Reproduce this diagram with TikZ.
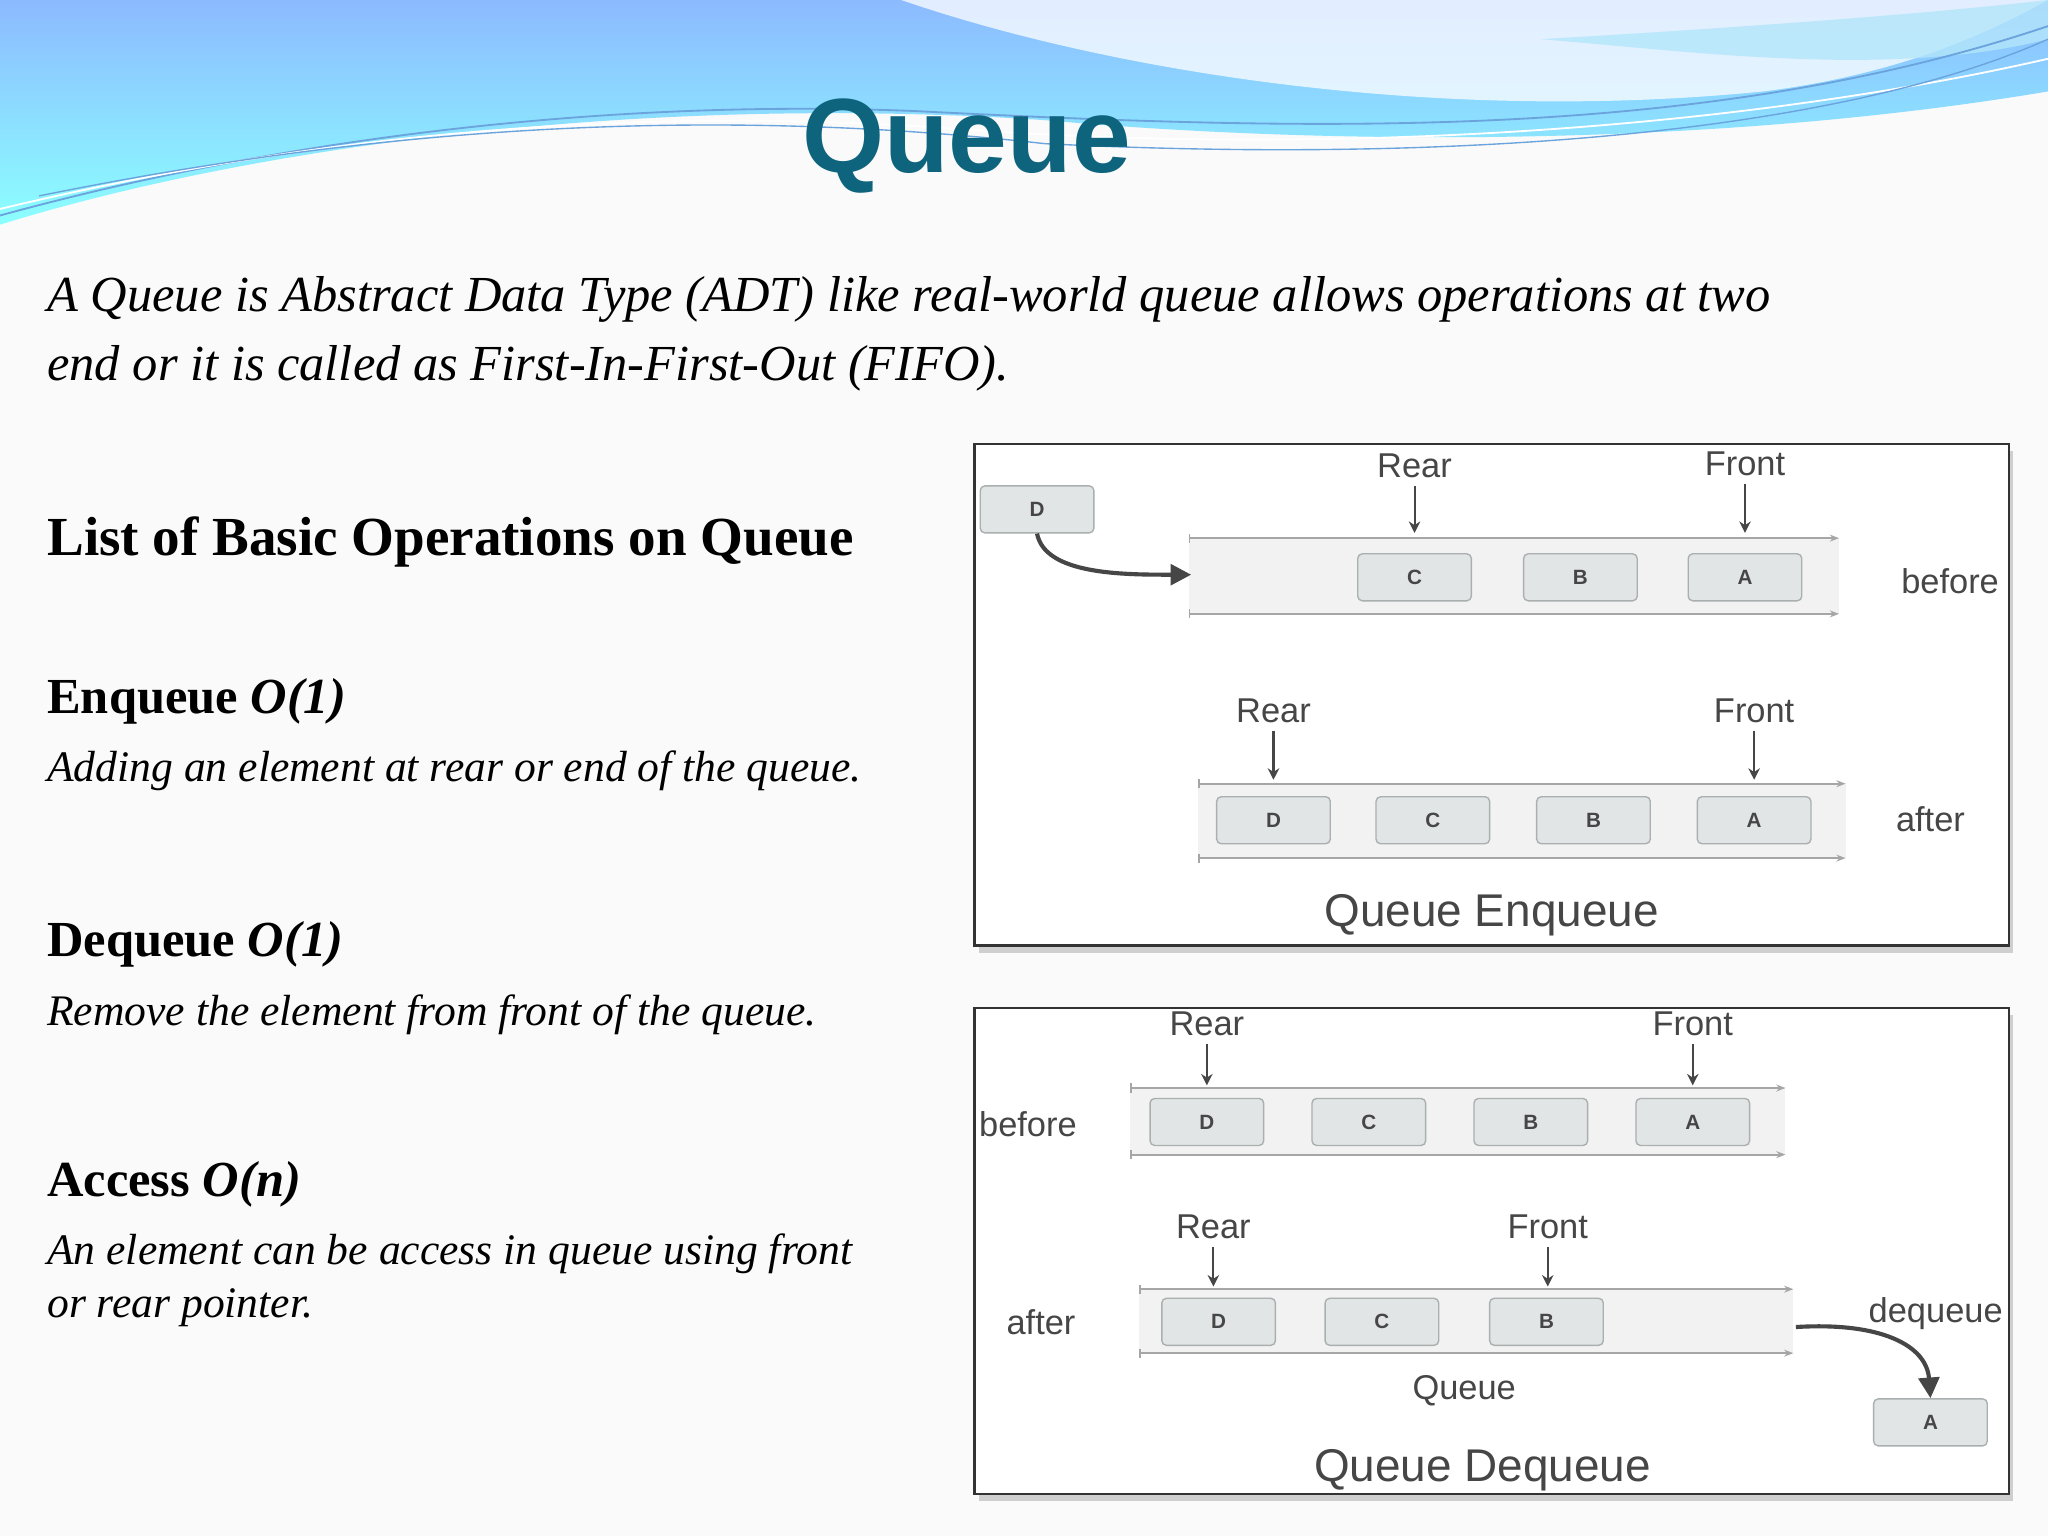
\documentclass[tikz,border=0pt]{standalone}
\usepackage{fontspec}
\setmainfont{Liberation Serif}
\setsansfont{Liberation Sans}
\usetikzlibrary{arrows.meta,shadows}
\definecolor{teal1}{RGB}{14,100,125}
\definecolor{cellf}{RGB}{225,229,229}
\definecolor{cellb}{RGB}{170,175,175}
\definecolor{chan}{RGB}{242,242,242}
\definecolor{dtxt}{RGB}{70,70,70}
\tikzset{
 cell/.style={draw=cellb,fill=cellf,rounded corners=2pt,minimum width=1.74cm,minimum height=0.72cm,font=\sffamily\fontsize{9}{9}\selectfont\bfseries,text=dtxt,line width=0.6pt},
 lab/.style={font=\sffamily\fontsize{15}{15}\selectfont,text=dtxt},
 ptr/.style={-{Stealth[length=5pt,width=5pt]},line width=0.9pt,draw=dtxt},
 rail/.style={draw=gray!70,line width=0.8pt,{Bar[width=4pt]}-{Stealth[length=4pt]}},
 frame/.style={draw=black!80,line width=1pt,fill=white,drop shadow={opacity=0.35,shadow xshift=2pt,shadow yshift=-3pt}},
 body/.style={anchor=west,font=\itshape\fontsize{22}{26}\selectfont},
 sub/.style={anchor=west,font=\itshape\fontsize{19}{23}\selectfont},
 head/.style={anchor=west,font=\bfseries\fontsize{22}{26}\selectfont},
 big/.style={anchor=west,font=\bfseries\fontsize{24}{28}\selectfont},
 captext/.style={font=\sffamily\fontsize{20}{20}\selectfont,text=dtxt},
 curvearrow/.style={-{Triangle[length=9pt,width=9pt]},line width=1.8pt,draw=dtxt}
}
\begin{document}
\begin{tikzpicture}[x=0.02cm,y=-0.02cm]
\useasboundingbox (0,0) rectangle (1568,1176);
\fill[black!2] (0,0) rectangle (1568,1176);
% waves
\shade[top color=cyan!40!blue!45,bottom color=cyan!45] (0,0) -- (1568,0) -- (1568,70) .. controls (1300,115) and (1000,110) .. (800,92) .. controls (500,72) and (200,110) .. (0,172) -- cycle;
\fill[white,opacity=0.75] (690,0) .. controls (850,55) and (1100,95) .. (1350,70) .. controls (1470,55) and (1540,15) .. (1568,0) -- cycle;
\fill[cyan!30,opacity=0.8] (1568,0) -- (1568,30) .. controls (1450,60) and (1300,40) .. (1180,30) .. controls (1350,20) and (1480,10) .. (1568,0);
\draw[cyan!60!blue!60,line width=0.8pt] (0,165) .. controls (200,110) and (450,75) .. (700,85) .. controls (1000,100) and (1300,110) .. (1568,20);
\draw[white,line width=0.8pt] (0,160) .. controls (250,100) and (500,80) .. (750,100) .. controls (1050,120) and (1350,95) .. (1568,45);
\draw[cyan!60!blue!60,line width=0.6pt] (30,150) .. controls (300,95) and (550,82) .. (800,110) .. controls (1100,125) and (1400,105) .. (1568,30);
% title
\node[font=\sffamily\bfseries\fontsize{46}{46}\selectfont,text=teal1] (title) at (740,112) {Queue};
% left text
\node[body] (l1) at (30,229) {A Queue is Abstract Data Type (ADT) like real-world queue allows operations at two};
\node[body] (l2) at (30,282) {end or it is called as First-In-First-Out (FIFO).};
\node[big] (list) at (30,415) {List of Basic Operations on Queue};
\node[head] (enq) at (30,537) {Enqueue \textit{O(1)}};
\node[sub] (enqt) at (30,590) {Adding an element at rear or end of the queue.};
\node[head] (deq) at (30,723) {Dequeue \textit{O(1)}};
\node[sub] (deqt) at (30,777) {Remove the element from front of the queue.};
\node[head] (acc) at (30,907) {Access \textit{O(n)}};
\node[sub] (acct1) at (30,960) {An element can be access in queue using front};
\node[sub] (acct2) at (30,1001) {or rear pointer.};
% enqueue frame
\path[frame] (746,340) rectangle (1538,724);
\node[cell] (eD0) at (794,390) {D};
\fill[chan] (910,412) rectangle (1408,470);
\coordinate (r1a) at (910,412); \coordinate (r1b) at (1408,412);
\coordinate (r2a) at (910,470); \coordinate (r2b) at (1408,470);
\draw[rail] (r1a) -- (r1b); \draw[rail] (r2a) -- (r2b);
\node[cell] (eC) at (1083,442) {C};
\node[cell] (eB) at (1210,442) {B};
\node[cell] (eA) at (1336,442) {A};
\node[lab] (eRear) at (1083,357) {Rear};
\node[lab] (eFront) at (1336,355) {Front};
\coordinate (eRt) at (1083,408); \coordinate (eFt) at (1336,408);
\draw[ptr] (eRear.south) -- (eRt); \draw[ptr] (eFront.south) -- (eFt);
\node[lab] (ebef) at (1493,445) {before};
\coordinate (ein) at (912,440);
\draw[curvearrow] (eD0.south) .. controls (800,440) and (860,440) .. (ein);
% after
\fill[chan] (917,600) rectangle (1413,657);
\coordinate (r3a) at (917,600); \coordinate (r3b) at (1413,600);
\coordinate (r4a) at (917,657); \coordinate (r4b) at (1413,657);
\draw[rail] (r3a) -- (r3b); \draw[rail] (r4a) -- (r4b);
\node[cell] (fD) at (975,628) {D};
\node[cell] (fC) at (1097,628) {C};
\node[cell] (fB) at (1220,628) {B};
\node[cell] (fA) at (1343,628) {A};
\node[lab] (fRear) at (975,544) {Rear};
\node[lab] (fFront) at (1343,544) {Front};
\coordinate (fRt) at (975,597); \coordinate (fFt) at (1343,597);
\draw[ptr] (fRear.south) -- (fRt); \draw[ptr] (fFront.south) -- (fFt);
\node[lab] (faft) at (1478,627) {after};
\node[captext] (ecap) at (1142,701) {Queue Enqueue};
% dequeue frame
\path[frame] (746,772) rectangle (1538,1144);
\fill[chan] (865,833) rectangle (1367,884);
\coordinate (r5a) at (865,833); \coordinate (r5b) at (1367,833);
\coordinate (r6a) at (865,884); \coordinate (r6b) at (1367,884);
\draw[rail] (r5a) -- (r5b); \draw[rail] (r6a) -- (r6b);
\node[cell] (gD) at (924,859) {D};
\node[cell] (gC) at (1048,859) {C};
\node[cell] (gB) at (1172,859) {B};
\node[cell] (gA) at (1296,859) {A};
\node[lab] (gRear) at (924,784) {Rear};
\node[lab] (gFront) at (1296,784) {Front};
\coordinate (gRt) at (924,831); \coordinate (gFt) at (1296,831);
\draw[ptr] (gRear.south) -- (gRt); \draw[ptr] (gFront.south) -- (gFt);
\node[lab] (gbef) at (787,861) {before};
\fill[chan] (872,987) rectangle (1373,1036);
\coordinate (r7a) at (872,987); \coordinate (r7b) at (1373,987);
\coordinate (r8a) at (872,1036); \coordinate (r8b) at (1373,1036);
\draw[rail] (r7a) -- (r7b); \draw[rail] (r8a) -- (r8b);
\node[cell] (hD) at (933,1012) {D};
\node[cell] (hC) at (1058,1012) {C};
\node[cell] (hB) at (1184,1012) {B};
\node[lab] (hRear) at (929,939) {Rear};
\node[lab] (hFront) at (1185,939) {Front};
\coordinate (hRt) at (929,985); \coordinate (hFt) at (1185,985);
\draw[ptr] (hRear.south) -- (hRt); \draw[ptr] (hFront.south) -- (hFt);
\node[lab] (haft) at (797,1012) {after};
\node[lab] (hdq) at (1482,1006) {dequeue};
\node[cell] (hA) at (1478,1089) {A};
\coordinate (hout) at (1375,1016);
\draw[curvearrow] (hout) .. controls (1440,1012) and (1475,1030) .. (hA.north);
\node[lab] (hq) at (1121,1065) {Queue};
\node[captext] (dcap) at (1135,1126) {Queue Dequeue};
\end{tikzpicture}
\end{document}
